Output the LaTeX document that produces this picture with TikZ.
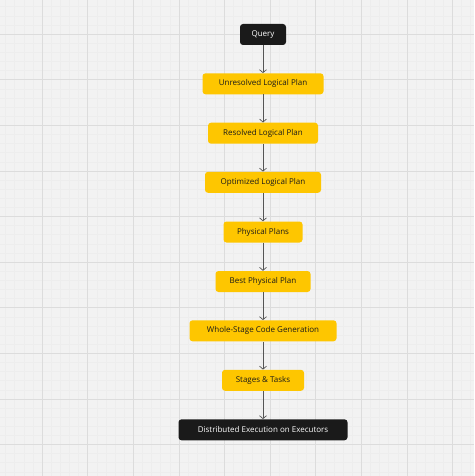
\documentclass[tikz,border=0pt]{standalone}
\usepackage{fontspec}
\setmainfont{Open Sans}
\usetikzlibrary{arrows.meta}
\definecolor{bg}{HTML}{F2F2F2}
\definecolor{gridmajor}{HTML}{DCDCDC}
\definecolor{gridminor}{HTML}{EDEDED}
\definecolor{stepyellow}{HTML}{FEC600}
\definecolor{stepblack}{HTML}{1A1A1A}
\definecolor{arrowgray}{HTML}{555555}
\tikzset{
  yellowbox/.style={fill=stepyellow, rounded corners=3pt, minimum height=21pt, inner sep=0pt, text=stepblack, font=\fontsize{8}{9}\selectfont},
  blackbox/.style={fill=stepblack, rounded corners=3pt, minimum height=21pt, inner sep=0pt, text=white, font=\fontsize{8}{9}\selectfont},
  flow/.style={draw=arrowgray, line width=0.8pt, -{Straight Barb[length=3pt,width=7pt,line width=0.7pt]}}
}
\begin{document}
\begin{tikzpicture}[x=1pt,y=-1pt]
\useasboundingbox (0,0) rectangle (474,476);
\fill[bg] (0,0) rectangle (474,476);
% minor grid
\foreach \i in {0,...,55} {
  \draw[gridminor, line width=0.3pt] ({-3.6+9.12*\i},0) -- ({-3.6+9.12*\i},476);
  \draw[gridminor, line width=0.3pt] (0,{-11.6+9.12*\i}) -- (474,{-11.6+9.12*\i});
}
% major grid
\foreach \i in {0,...,11} {
  \draw[gridmajor, line width=0.6pt] ({-3.6+45.6*\i},0) -- ({-3.6+45.6*\i},476);
  \draw[gridmajor, line width=0.6pt] (0,{-11.6+45.6*\i}) -- (474,{-11.6+45.6*\i});
}
\node[blackbox, minimum width=46pt] (q) at (263,34.5) {Query};
\node[yellowbox, minimum width=121pt] (u) at (263,83.8) {Unresolved Logical Plan};
\node[yellowbox, minimum width=110pt] (r) at (263,133.2) {Resolved Logical Plan};
\node[yellowbox, minimum width=116pt] (o) at (263,182.3) {Optimized Logical Plan};
\node[yellowbox, minimum width=79pt] (p) at (263,232) {Physical Plans};
\node[yellowbox, minimum width=95pt] (b) at (263,281.5) {Best Physical Plan};
\node[yellowbox, minimum width=147pt] (w) at (263,330.8) {Whole-Stage Code Generation};
\node[yellowbox, minimum width=82pt] (s) at (263,380.3) {Stages \& Tasks};
\node[blackbox, minimum width=169pt] (d) at (263,429.8) {Distributed Execution on Executors};
\draw[flow] (q) -- (u);
\draw[flow] (u) -- (r);
\draw[flow] (r) -- (o);
\draw[flow] (o) -- (p);
\draw[flow] (p) -- (b);
\draw[flow] (b) -- (w);
\draw[flow] (w) -- (s);
\draw[flow] (s) -- (d);
\end{tikzpicture}
\end{document}
